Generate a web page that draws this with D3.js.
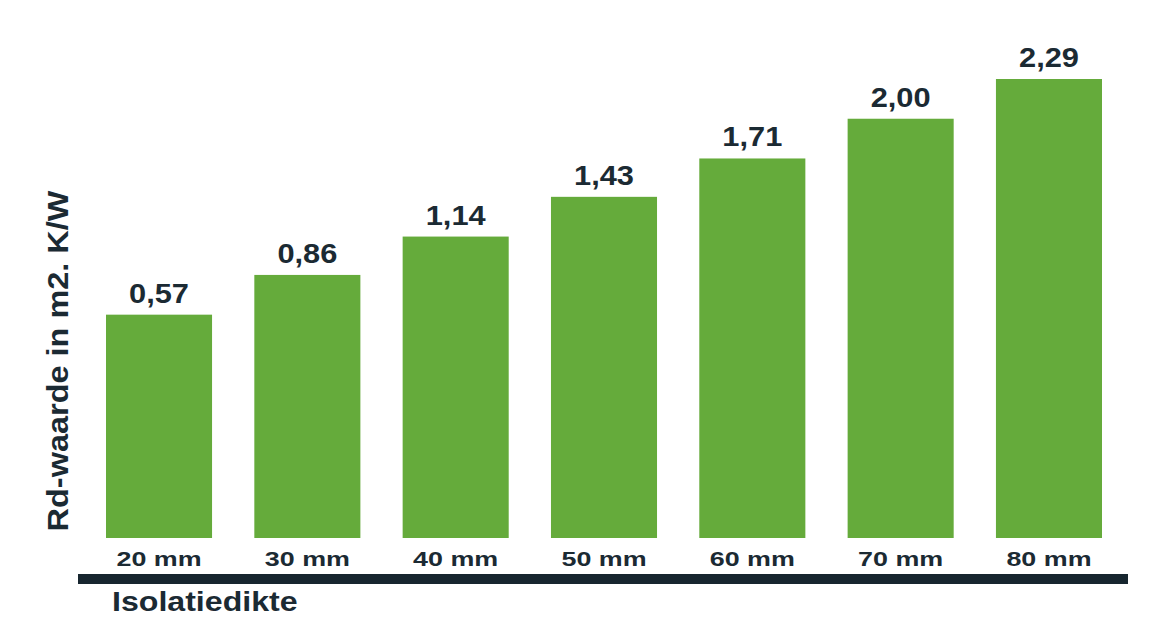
<!DOCTYPE html>
<html>
    <head>
        <script src="https://d3js.org/d3.v7.min.js"></script>
        <style>
            body { margin: 0; background: white; }
        </style>
    </head>
    <body>
        <script>
            // data
            const categories = ["20 mm", "30 mm", "40 mm", "50 mm", "60 mm", "70 mm", "80 mm"];
            const values = [0.57, 0.86, 1.14, 1.43, 1.71, 2.00, 2.29];
            const xTitle = "Isolatiedikte";
            const yTitle = "Rd-waarde in m2. K/W";

            const width = 1166, height = 644;
            const dark = "#1b2a33";
            const green = "#65ab3b";
            const font = "'Liberation Sans', Arial, sans-serif";

            let svg = d3.select("body")
                .append("svg")
                .attr("width", width)
                .attr("height", height)
                .style("font-family", font)
                .style("font-weight", "bold");

            let x = d3.scaleBand()
                .domain(categories)
                .range([106, 1102])
                .paddingInner(0.285)
                .paddingOuter(0);

            // baseline of the bars sits below zero in the original
            let y = d3.scaleLinear()
                .domain([-1.06, 2.29])
                .range([538, 79]);

            let data = categories.map((c, i) => ({cat: c, val: values[i]}));

            // bars
            svg.append("g")
                .selectAll("rect")
                .data(data)
                .join("rect")
                .attr("x", d => x(d.cat))
                .attr("width", x.bandwidth())
                .attr("y", d => y(d.val))
                .attr("height", d => y(-1.06) - y(d.val))
                .attr("fill", green);

            // value labels (text is wide in the original, so stretch a bit)
            svg.append("g")
                .selectAll("text")
                .data(data)
                .join("text")
                .attr("transform", d => `translate(${x(d.cat) + x.bandwidth() / 2}, ${y(d.val) - 12}) scale(1.1, 1)`)
                .attr("text-anchor", "middle")
                .style("font-size", "28px")
                .style("fill", dark)
                .text(d => d.val.toFixed(2).replace(".", ","));

            // category labels
            svg.append("g")
                .selectAll("text")
                .data(categories)
                .join("text")
                .attr("transform", d => `translate(${x(d) + x.bandwidth() / 2}, 566) scale(1.28, 1)`)
                .attr("text-anchor", "middle")
                .style("font-size", "21px")
                .style("fill", dark)
                .text(d => d);

            // thick axis bar
            svg.append("rect")
                .attr("x", 78)
                .attr("y", 574)
                .attr("width", 1050)
                .attr("height", 10)
                .attr("fill", "#17262f");

            // axis titles
            svg.append("text")
                .attr("transform", "translate(112, 611) scale(1.19, 1)")
                .style("font-size", "27px")
                .style("fill", dark)
                .text(xTitle);

            svg.append("text")
                .attr("transform", "translate(68, 361) rotate(-90) scale(1.12, 1)")
                .attr("text-anchor", "middle")
                .style("font-size", "29px")
                .style("fill", dark)
                .text(yTitle);
        </script>
    </body>
</html>
